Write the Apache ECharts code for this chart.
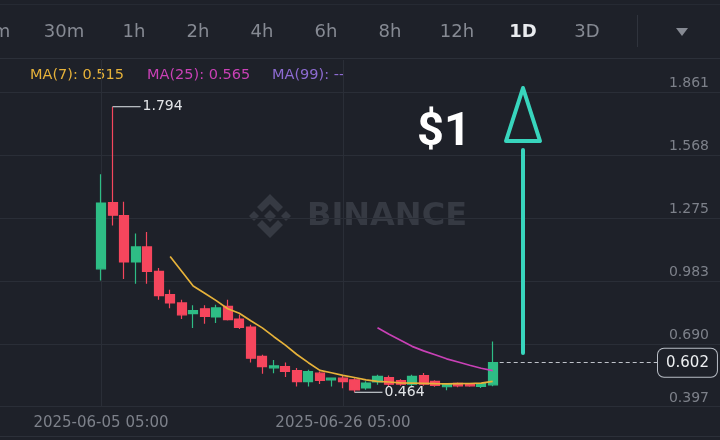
<!DOCTYPE html>
<html><head><meta charset="utf-8">
<script src="https://cdn.jsdelivr.net/npm/echarts@6/dist/echarts.min.js"></script>
<style>html,body{margin:0;padding:0;background:#1e2129;}#c{width:720px;height:440px;}</style>
</head><body><div id="c"></div>
<script>
// ---- data ----
const dates = ['2025-06-05','2025-06-06','2025-06-07','2025-06-08','2025-06-09','2025-06-10','2025-06-11',
  '2025-06-12','2025-06-13','2025-06-14','2025-06-15','2025-06-16','2025-06-17','2025-06-18','2025-06-19',
  '2025-06-20','2025-06-21','2025-06-22','2025-06-23','2025-06-24','2025-06-25','2025-06-26','2025-06-27',
  '2025-06-28','2025-06-29','2025-06-30','2025-07-01','2025-07-02','2025-07-03','2025-07-04','2025-07-05',
  '2025-07-06','2025-07-07','2025-07-08','2025-07-09'];
const timeLabel = '05:00';
const opens  = [1.039,1.347,1.287,1.071,1.141,1.027,0.919,0.880,0.830,0.853,0.815,0.864,0.805,0.768,0.631,0.578,0.584,0.565,0.514,0.553,0.522,0.530,0.522,0.484,0.512,0.533,0.518,0.502,0.542,0.515,0.490,0.506,0.504,0.492,0.499];
const closes = [1.345,1.289,1.071,1.141,1.027,0.914,0.880,0.825,0.845,0.817,0.857,0.802,0.766,0.623,0.584,0.587,0.561,0.514,0.561,0.519,0.530,0.514,0.475,0.507,0.538,0.502,0.502,0.538,0.502,0.496,0.502,0.494,0.494,0.504,0.602];
const lows   = [0.985,1.241,0.992,0.970,0.969,0.895,0.855,0.805,0.763,0.783,0.787,0.798,0.759,0.603,0.550,0.553,0.535,0.491,0.491,0.503,0.491,0.483,0.464,0.476,0.499,0.491,0.494,0.491,0.494,0.490,0.474,0.488,0.490,0.484,0.492];
const highs  = [1.479,1.794,1.351,1.203,1.211,1.043,0.942,0.895,0.869,0.869,0.872,0.895,0.825,0.779,0.639,0.615,0.603,0.577,0.569,0.561,0.531,0.541,0.530,0.515,0.546,0.542,0.525,0.546,0.554,0.520,0.504,0.510,0.507,0.507,0.701];
const ma7Start = 6;
const ma7  = [1.096,1.028,0.959,0.925,0.891,0.853,0.832,0.797,0.764,0.723,0.684,0.640,0.602,0.566,0.555,0.543,0.533,0.522,0.515,0.512,0.508,0.507,0.506,0.504,0.503,0.504,0.505,0.507,0.515];
const ma25Start = 24;
const ma25 = [0.765,0.734,0.706,0.678,0.657,0.639,0.620,0.605,0.590,0.576,0.565];
const yTicks = [0.397,0.690,0.983,1.275,1.568,1.861];
const xTickIdx = [0,21];
const tabs = ['15m','30m','1h','2h','4h','6h','8h','12h','1D','3D'];
const activeTab = '1D';
const annotationText = '$1';

// ---- style ----
const bg = '#1e2129', gridColor = '#2a2e37', axisText = '#7d818a';
const upColor = '#2ebd85', downColor = '#f6465d';
const ma7Color = '#e6b23a', ma25Color = '#c941b6', ma99Color = '#8d6bd1';
const font = 'DejaVu Sans';

const candleData = dates.map((d, i) => [i, opens[i], closes[i], lows[i], highs[i]]);
const ma7Data = ma7.map((v, k) => [ma7Start + k, v]);
const ma25Data = ma25.map((v, k) => [ma25Start + k, v]);
const last = closes.length - 1;

const tabX = [-10, 64, 134, 198, 262, 326, 390, 457, 523, 587];
const graphics = [];
graphics.push({type:'line', shape:{x1:0,y1:4.5,x2:720,y2:4.5}, style:{stroke:'#262a33', lineWidth:1}});
graphics.push({type:'line', shape:{x1:0,y1:58.5,x2:720,y2:58.5}, style:{stroke:'#2c3039', lineWidth:1}});
graphics.push({type:'line', shape:{x1:0,y1:436.5,x2:720,y2:436.5}, style:{stroke:'#2c3039', lineWidth:1}});
tabs.forEach((t, i) => {
  const act = t === activeTab;
  graphics.push({type:'text', x: tabX[i], y: 32, style:{text:t, fill: act ? '#eaecef' : '#868a93',
    fontSize:18, fontFamily:font, fontWeight: act ? 'bold' : 'normal', align:'center', verticalAlign:'middle'}});
});
graphics.push({type:'line', shape:{x1:637.5,y1:15,x2:637.5,y2:47}, style:{stroke:'#30343d', lineWidth:1}});
graphics.push({type:'polygon', shape:{points:[[676,28],[688,28],[682,36]]}, style:{fill:'#868a93'}});
// MA legend
const maLegend = [
  {t:'MA(7): ' + ma7[ma7.length-1].toFixed(3), c:ma7Color, x:30},
  {t:'MA(25): ' + ma25[ma25.length-1].toFixed(3), c:ma25Color, x:147},
  {t:'MA(99): --', c:ma99Color, x:272}
];
maLegend.forEach(m => graphics.push({type:'text', x:m.x, y:75, style:{text:m.t, fill:m.c, fontSize:14.5,
  fontFamily:font, align:'left', verticalAlign:'middle'}}));
// watermark
const wm = '#363a43';
graphics.push({type:'group', x:270, y:216, z:-1, children:[
  {type:'polygon', shape:{points:[[0,-6],[6,0],[0,6],[-6,0]]}, style:{fill:wm}},
  {type:'polygon', shape:{points:[[-21,0],[-16,-5],[-11,0],[-16,5]]}, style:{fill:wm}},
  {type:'polygon', shape:{points:[[21,0],[16,-5],[11,0],[16,5]]}, style:{fill:wm}},
  {type:'polygon', shape:{points:[[0,-22],[13,-9],[8,-4],[0,-12],[-8,-4],[-13,-9]]}, style:{fill:wm}},
  {type:'polygon', shape:{points:[[0,22],[13,9],[8,4],[0,12],[-8,4],[-13,9]]}, style:{fill:wm}}
]});
graphics.push({type:'text', x:387, y:217, z:-1, style:{text:'BINANCE', fill:wm, fontSize:32, fontWeight:'bold',
  fontFamily:font, align:'center', verticalAlign:'middle'}});
// hand-drawn annotation
graphics.push({type:'text', x:444, y:133, z:100, style:{text:annotationText, fill:'#ffffff', fontSize:47, fontWeight:'bold',
  fontFamily:'Roboto', align:'center', verticalAlign:'middle', shadowColor:'rgba(0,0,0,0.85)', shadowBlur:6, shadowOffsetY:2}});
graphics.push({type:'line', z:100, shape:{x1:523,y1:150,x2:523,y2:353}, style:{stroke:'#38d5bd', lineWidth:4, lineCap:'round'}});
graphics.push({type:'polygon', z:100, shape:{points:[[523,88],[540,141],[506,141]]}, style:{fill:'none', stroke:'#38d5bd', lineWidth:4, lineJoin:'round'}});

const chart = echarts.init(document.getElementById('c'));
chart.setOption({
  backgroundColor: bg,
  animation: false,
  grid: {left:0, right:0, top:60, bottom:33.3},
  xAxis: {
    type:'value', min:-8.77, max:53.73,
    axisLine:{show:false},
    axisTick:{show:false, customValues:xTickIdx},
    axisLabel:{customValues:xTickIdx, formatter: v => dates[v] + ' ' + timeLabel, color:axisText,
      fontSize:15, fontFamily:font, margin:9},
    splitLine:{show:true, lineStyle:{color:gridColor, width:1}}
  },
  yAxis: {
    type:'value', position:'right', min:0.397, max:2.0114,
    axisLine:{show:false},
    axisTick:{show:false, customValues:yTicks},
    axisLabel:{customValues:yTicks, inside:true, formatter: v => v.toFixed(3), verticalAlign:'bottom',
      lineHeight:14, padding:[0,0,1.5,0], margin:11, color:axisText, fontSize:14, fontFamily:font},
    splitLine:{show:true, lineStyle:{color:gridColor, width:1}}
  },
  graphic: graphics,
  series: [
    {
      type:'candlestick', data:candleData, barWidth:9.6, z:2,
      itemStyle:{color:upColor, color0:downColor, borderColor:upColor, borderColor0:downColor, borderWidth:1.2},
      markPoint:{
        symbol:'rect', symbolSize:[28,1.2], symbolOffset:[14,0], itemStyle:{color:'#c4c8ce'},
        label:{show:true, position:'right', distance:2, color:'#e3e5e8', fontSize:14, fontFamily:font,
          formatter: p => Number(p.value).toFixed(3)},
        data:[{type:'max', valueDim:'highest'}, {type:'min', valueDim:'lowest'}]
      },
      markLine:{
        silent:true, z:1, symbol:['none','none'],
        lineStyle:{type:[4,3], color:'#bfc3ca', width:1},
        label:{show:true, position:'end', distance:1, formatter: () => closes[last].toFixed(3),
          color:'#eef0f2', fontSize:15, fontFamily:font, backgroundColor:bg, borderColor:'#b9bec6',
          borderWidth:1, borderRadius:6, padding:[6,8,5,8], lineHeight:17},
        data:[[{xAxis:last, yAxis:closes[last]}, {x:657, yAxis:closes[last]}]]
      }
    },
    {type:'line', data:ma7Data, showSymbol:false, symbol:'none', z:3, lineStyle:{color:ma7Color, width:1.7}},
    {type:'line', data:ma25Data, showSymbol:false, symbol:'none', z:3, lineStyle:{color:ma25Color, width:1.7}}
  ]
});
</script>
</body></html>
